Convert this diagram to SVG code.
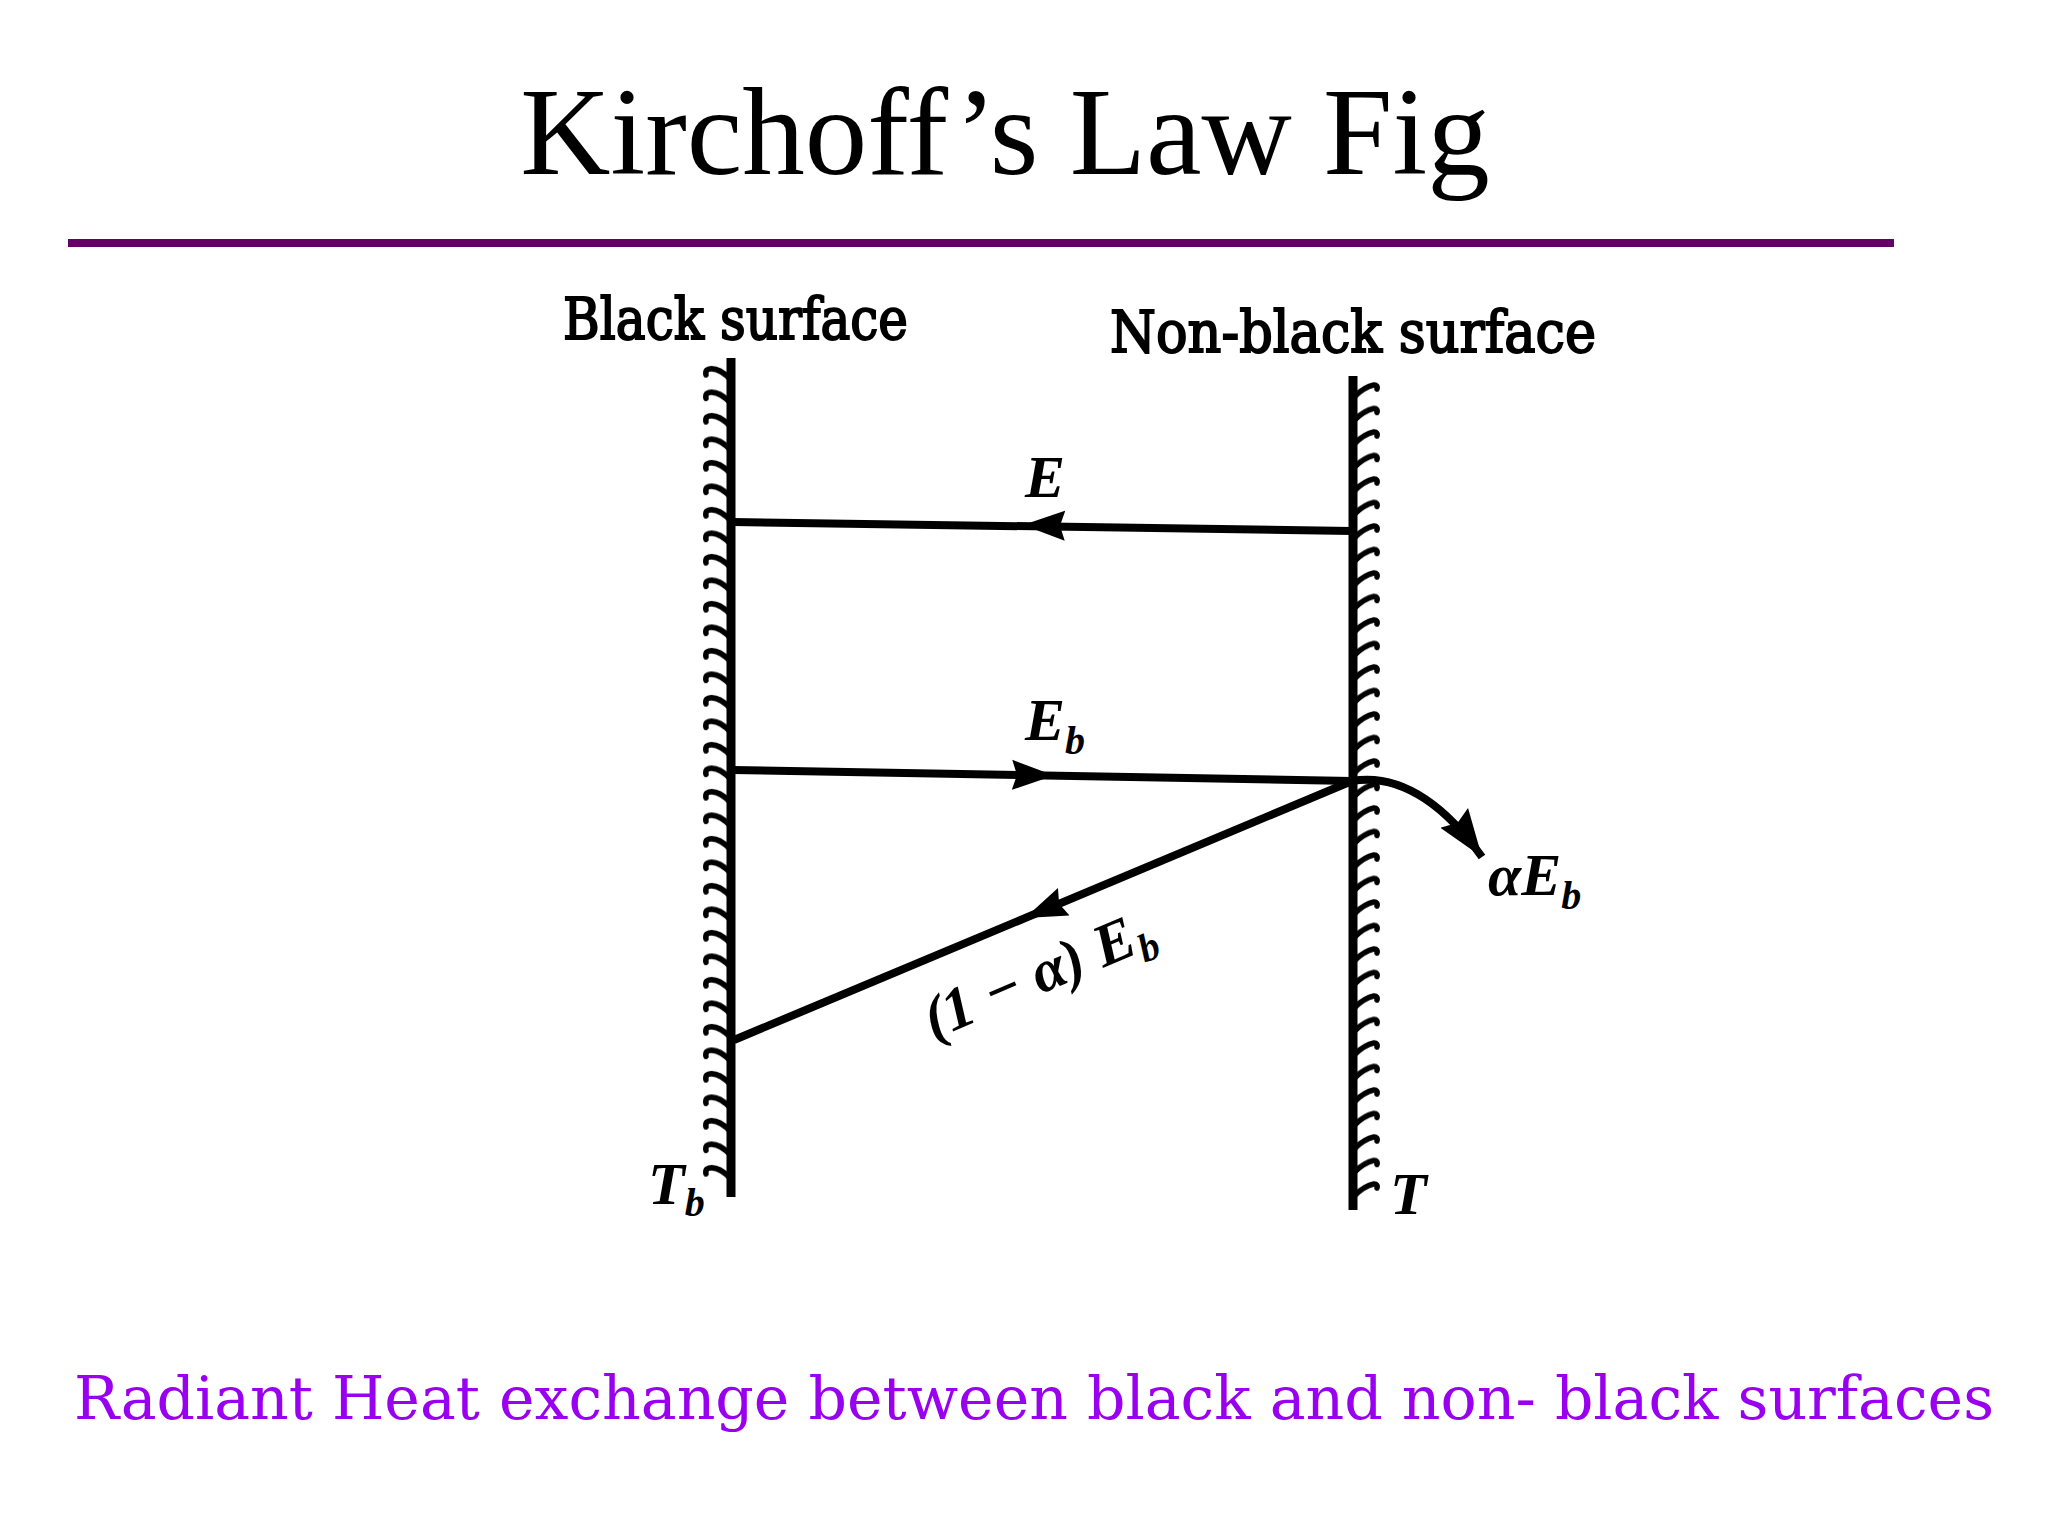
<svg xmlns="http://www.w3.org/2000/svg" width="2048" height="1536" viewBox="0 0 2048 1536">
<style>
.title{font-family:"Liberation Serif","Times New Roman",serif;font-size:125px;fill:#000}
.surf{font-family:"DejaVu Serif","Liberation Serif",serif;font-size:58px;fill:#000;stroke:#000;stroke-width:2}
.lbl{font-family:"Liberation Serif","Times New Roman",serif;font-style:italic;font-weight:bold;font-size:60px;fill:#000}
.sub{font-size:40px}
.wall{stroke:#000;stroke-width:9;stroke-linecap:butt}
.ray{stroke:#000;fill:none;stroke-width:8}
.caption{font-family:"DejaVu Serif","Liberation Serif",serif;font-size:60px;fill:#9a00f0}
</style>
<defs>
<marker id="ah" markerWidth="44" markerHeight="32" refX="42" refY="16" orient="auto" markerUnits="userSpaceOnUse">
<path d="M0,1 L42,16 L0,31 L5,16 Z" fill="#000"/>
</marker>
<marker id="ah2" markerWidth="50" markerHeight="36" refX="48" refY="18" orient="auto" markerUnits="userSpaceOnUse">
<path d="M0,1 L48,18 L0,35 L6,18 Z" fill="#000"/>
</marker>
<pattern id="hatchL" patternUnits="userSpaceOnUse" x="703" y="362" width="28" height="23.5">
<path d="M28,18 Q16,5 6,7 Q2,8 3,13" fill="none" stroke="#000" stroke-width="5.5" stroke-linecap="round"/>
</pattern>
<pattern id="hatchR" patternUnits="userSpaceOnUse" x="1353" y="380" width="28" height="23.5">
<path d="M0,18 Q11,7 21,5 Q25,5 24,9" fill="none" stroke="#000" stroke-width="5.5" stroke-linecap="round"/>
</pattern>
</defs>
<rect width="2048" height="1536" fill="#fff"/>

<g id="title">
<text class="title" x="1005" y="174" text-anchor="middle">Kirchoff’s Law Fig</text>
<line x1="68" y1="243" x2="1894" y2="243" stroke="#660066" stroke-width="8"/>
</g>

<g id="black-surface">
<rect x="703" y="362" width="28" height="822" fill="url(#hatchL)"/>
<line class="wall" x1="731" y1="358" x2="731" y2="1197"/>
<text class="surf" x="563" y="339" textLength="345" lengthAdjust="spacingAndGlyphs">Black surface</text>
<text class="lbl" x="648" y="1204">T<tspan class="sub" dy="12">b</tspan></text>
</g>

<g id="nonblack-surface">
<rect x="1353" y="380" width="28" height="822" fill="url(#hatchR)"/>
<line class="wall" x1="1353" y1="376" x2="1353" y2="1210"/>
<text class="surf" x="1110" y="352" textLength="486" lengthAdjust="spacingAndGlyphs">Non-black surface</text>
<text class="lbl" x="1390" y="1214">T</text>
</g>

<g id="connectors">
<path class="ray" d="M1352,531 L733,522"/>
<path d="M1352,531 L1023,525" fill="none" stroke="none" marker-end="url(#ah)"/>
<path class="ray" d="M733,770 L1352,781"/>
<path d="M733,770 L1054,775.6" fill="none" stroke="none" marker-end="url(#ah)"/>
<path class="ray" stroke-width="9" d="M1352,781 L734,1040"/>
<path d="M1352,781 L1025,918" fill="none" stroke="none" marker-end="url(#ah)"/>
<path class="ray" stroke-width="7" d="M1352,781 C1405,772 1450,812 1482,857"/>
<path d="M1352,781 C1405,772 1450,812 1482,857" fill="none" stroke="none" marker-end="url(#ah2)"/>
</g>

<g id="labels">
<text class="lbl" x="1025" y="497">E</text>
<text class="lbl" x="1025" y="740">E<tspan class="sub" dy="14">b</tspan></text>
<text class="lbl" x="1488" y="895">αE<tspan class="sub" dy="14">b</tspan></text>
<text class="lbl" x="1046" y="992" text-anchor="middle" transform="rotate(-23 1046 992)">(1 − α) E<tspan class="sub" dy="12">b</tspan></text>
</g>

<text class="caption" x="74" y="1419" textLength="1920" lengthAdjust="spacingAndGlyphs">Radiant Heat exchange between black and non- black surfaces</text>
</svg>
